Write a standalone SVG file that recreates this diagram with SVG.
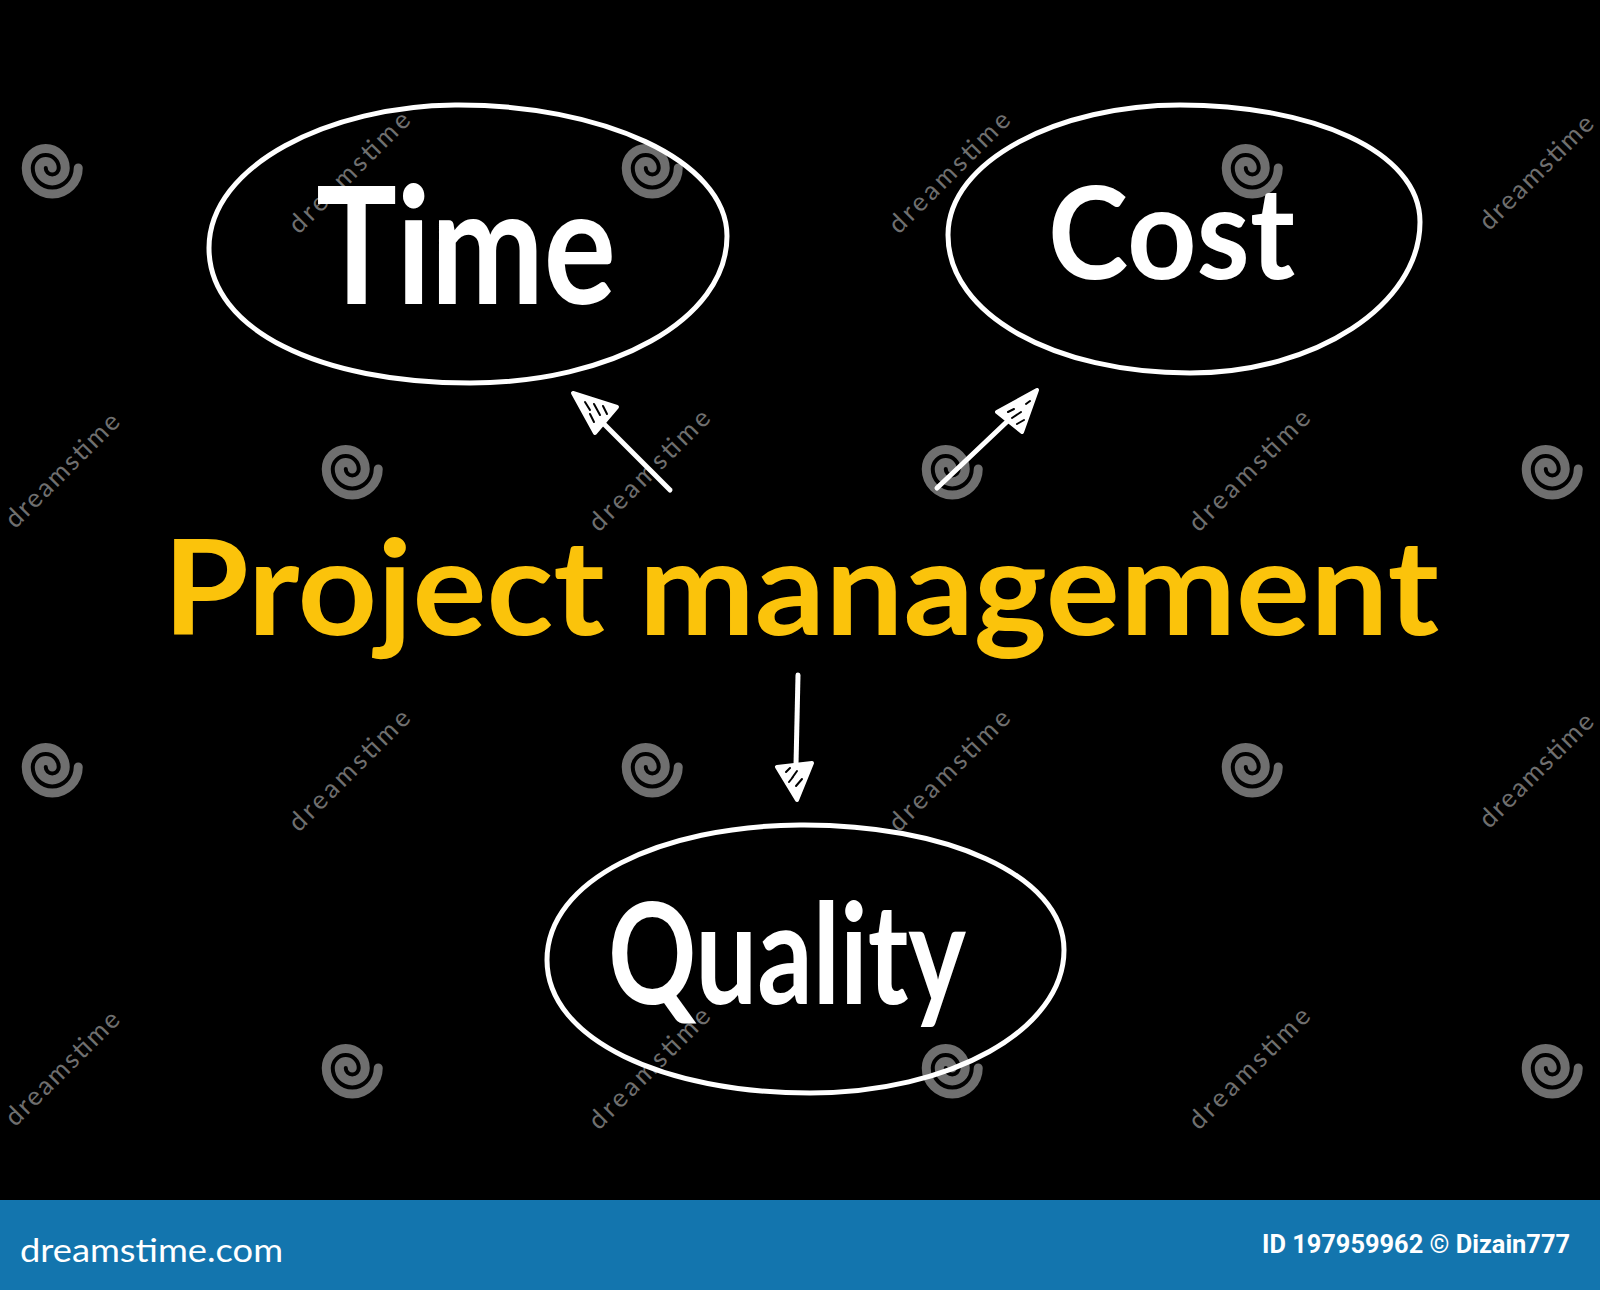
<svg xmlns="http://www.w3.org/2000/svg" xmlns:xlink="http://www.w3.org/1999/xlink" width="1600" height="1290" viewBox="0 0 1600 1290">
<defs>
<style>
.oval{fill:none;stroke:#ffffff;stroke-width:5;stroke-linecap:round;stroke-linejoin:round}
.lbl{font-family:Lato,"Open Sans","DejaVu Sans",sans-serif;font-weight:700;fill:#ffffff}
.main{font-family:Lato,"Open Sans","DejaVu Sans",sans-serif;font-weight:700;fill:#FBC30B}
.shaft{stroke:#ffffff;stroke-width:5;stroke-linecap:round;fill:none}
.head{fill:#ffffff;stroke:#ffffff;stroke-width:4;stroke-linejoin:round}
.hatch{stroke:#000000;stroke-width:2;stroke-linecap:round}
.wm{font-family:Lato,"Open Sans",sans-serif;font-size:26px;fill:#6f6f6f}
.sp{fill:none;stroke:#6f6f6f;stroke-width:9;stroke-linecap:round}
</style>
<g id="spiral"><path class="sp" d="M 3.25 0 A 6.5 6.5 0 0 0 -9.75 0 A 13 13 0 0 0 16.25 0 A 19.5 19.5 0 0 0 -22.75 0 A 26 26 0 0 0 29.25 0"/></g>
</defs>
<rect x="0" y="0" width="1600" height="1290" fill="#000000"/>

<g id="watermark">
<use xlink:href="#spiral" x="49" y="168"/>
<use xlink:href="#spiral" x="649" y="168"/>
<use xlink:href="#spiral" x="1249" y="168"/>
<use xlink:href="#spiral" x="349" y="469"/>
<use xlink:href="#spiral" x="949" y="469"/>
<use xlink:href="#spiral" x="1549" y="469"/>
<use xlink:href="#spiral" x="49" y="767"/>
<use xlink:href="#spiral" x="649" y="767"/>
<use xlink:href="#spiral" x="1249" y="767"/>
<use xlink:href="#spiral" x="349" y="1068"/>
<use xlink:href="#spiral" x="949" y="1068"/>
<use xlink:href="#spiral" x="1549" y="1068"/>
<text class="wm" text-anchor="middle" transform="translate(349 172) rotate(-45)" dy="9" textLength="160">dreamstime</text>
<text class="wm" text-anchor="middle" transform="translate(949 172) rotate(-45)" dy="9" textLength="160">dreamstime</text>
<text class="wm" text-anchor="middle" transform="translate(1536 172) rotate(-45)" dy="9" textLength="150">dreamstime</text>
<text class="wm" text-anchor="middle" transform="translate(62 470) rotate(-45)" dy="9" textLength="150">dreamstime</text>
<text class="wm" text-anchor="middle" transform="translate(649 470) rotate(-45)" dy="9" textLength="160">dreamstime</text>
<text class="wm" text-anchor="middle" transform="translate(1249 470) rotate(-45)" dy="9" textLength="160">dreamstime</text>
<text class="wm" text-anchor="middle" transform="translate(349 770) rotate(-45)" dy="9" textLength="160">dreamstime</text>
<text class="wm" text-anchor="middle" transform="translate(949 770) rotate(-45)" dy="9" textLength="160">dreamstime</text>
<text class="wm" text-anchor="middle" transform="translate(1536 770) rotate(-45)" dy="9" textLength="150">dreamstime</text>
<text class="wm" text-anchor="middle" transform="translate(62 1068) rotate(-45)" dy="9" textLength="150">dreamstime</text>
<text class="wm" text-anchor="middle" transform="translate(649 1068) rotate(-45)" dy="9" textLength="160">dreamstime</text>
<text class="wm" text-anchor="middle" transform="translate(1249 1068) rotate(-45)" dy="9" textLength="160">dreamstime</text>
</g>

<g id="node-time">
<path class="oval" d="M 209 248 C 209 165, 330 106, 455 105 C 600 104, 727 160, 727 236 C 727 320, 610 383, 470 383 C 320 383, 209 330, 209 248 Z"/>
<text class="lbl" x="316" y="304" font-size="162" textLength="300" lengthAdjust="spacingAndGlyphs">Time</text>
</g>

<g id="node-cost">
<path class="oval" d="M 948 235 C 948 160, 1060 105, 1180 105 C 1310 105, 1420 150, 1420 222 C 1420 305, 1315 373, 1190 373 C 1055 373, 948 315, 948 235 Z"/>
<text class="lbl" x="1048" y="279" font-size="128" textLength="247" lengthAdjust="spacingAndGlyphs">Cost</text>
</g>

<g id="node-quality">
<path class="oval" d="M 547 960 C 547 880, 660 826, 800 825 C 945 824, 1064 875, 1064 950 C 1064 1030, 950 1093, 810 1093 C 665 1093, 547 1040, 547 960 Z"/>
<text class="lbl" x="608" y="1004" font-size="140" textLength="358" lengthAdjust="spacingAndGlyphs">Quality</text>
</g>

<g id="node-project">
<text class="main" x="163" y="635" font-size="132" textLength="1276" lengthAdjust="spacingAndGlyphs">Project management</text>
</g>

<g id="connectors">
<line class="shaft" x1="670" y1="490" x2="594" y2="414"/>
<polygon class="head" points="573,393 617,407 595,433"/>
<path class="hatch" d="M 585 402 L 590 410 M 594 404 L 600 415 M 603 406 L 607 414 M 590 414 L 594 422"/>
<line class="shaft" x1="937" y1="488" x2="1014" y2="415"/>
<polygon class="head" points="1037,390 997,412 1022,432"/>
<path class="hatch" d="M 1008 412 L 1014 409 M 1012 418 L 1021 412 M 1017 424 L 1024 420 M 1026 404 L 1030 401"/>
<line class="shaft" x1="798" y1="675" x2="796" y2="765"/>
<polygon class="head" points="777,767 812,763 797,800"/>
<path class="hatch" d="M 786 772 L 790 768 M 792 778 L 797 771 M 796 786 L 802 779 M 789 782 L 793 777"/>
</g>

<g id="footer">
<rect x="0" y="1200" width="1600" height="90" fill="#1375AE"/>
<text x="20" y="1262" font-family="Lato,'Open Sans',sans-serif" font-size="32" fill="#ffffff" textLength="263" lengthAdjust="spacingAndGlyphs">dreamstime.com</text>
<text x="1262" y="1253" font-family="Roboto,'Liberation Sans',sans-serif" font-weight="700" font-size="25" fill="#ffffff" textLength="308" lengthAdjust="spacingAndGlyphs">ID 197959962 © Dizain777</text>
</g>
</svg>
